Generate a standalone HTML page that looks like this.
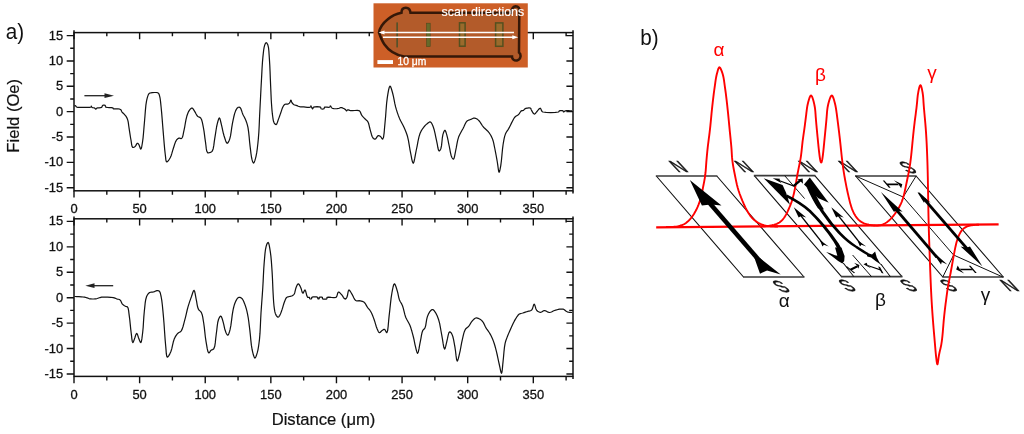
<!DOCTYPE html>
<html><head><meta charset="utf-8"><title>Figure</title>
<style>
html,body{margin:0;padding:0;background:#fff;}
svg{display:block;}
text{font-family:"Liberation Sans",Arial,sans-serif;}
.tl{font-size:13.6px;fill:#111;stroke:#111;stroke-width:0.3px;}
.at{font-size:16.6px;fill:#111;stroke:#111;stroke-width:0.2px;}
.pl{font-size:22.5px;fill:#111;}
.sb{font-size:10.3px;fill:#fff;stroke:#fff;stroke-width:0.3px;}
.sd{font-size:12.4px;fill:#fff;stroke:#fff;stroke-width:0.15px;}
.ns{fill:#111;stroke:#111;stroke-width:0.5px;}
.gk{font-size:19px;fill:#111;text-anchor:middle;}
.red{fill:#ff0000;}
</style></head>
<body>
<svg width="1024" height="434" viewBox="0 0 1024 434">
<rect x="74" y="32.6" width="499" height="158.2" fill="none" stroke="#111" stroke-width="1.5"/>
<line x1="74" y1="30.3" x2="74" y2="32.6" stroke="#111" stroke-width="1.5"/>
<line x1="573" y1="30.3" x2="573" y2="32.6" stroke="#111" stroke-width="1.5"/>
<line x1="573" y1="190.8" x2="573" y2="193.4" stroke="#111" stroke-width="1.5"/>
<path d="M66.7,187.7H74M566.4,187.7H573M66.7,162.35H74M566.4,162.35H573M66.7,137H74M566.4,137H573M66.7,111.65H74M566.4,111.65H573M66.7,86.3H74M566.4,86.3H573M66.7,60.95H74M566.4,60.95H573M66.7,35.6H74M566.4,35.6H573M70.2,175.03H74M569.2,175.03H573M70.2,149.68H74M569.2,149.68H573M70.2,124.33H74M569.2,124.33H573M70.2,98.98H74M569.2,98.98H573M70.2,73.62H74M569.2,73.62H573M70.2,48.28H74M569.2,48.28H573M74,190.8V197.6M74,32.6V39.2M139.62,190.8V197.6M139.62,32.6V39.2M205.23,190.8V197.6M205.23,32.6V39.2M270.85,190.8V197.6M270.85,32.6V39.2M336.46,190.8V197.6M336.46,32.6V39.2M402.07,190.8V197.6M402.07,32.6V39.2M467.69,190.8V197.6M467.69,32.6V39.2M533.31,190.8V197.6M533.31,32.6V39.2M106.81,190.8V194.8M106.81,32.6V36.2M172.42,190.8V194.8M172.42,32.6V36.2M238.04,190.8V194.8M238.04,32.6V36.2M303.65,190.8V194.8M303.65,32.6V36.2M369.27,190.8V194.8M369.27,32.6V36.2M434.88,190.8V194.8M434.88,32.6V36.2M500.5,190.8V194.8M500.5,32.6V36.2M566.11,190.8V194.8M566.11,32.6V36.2" stroke="#111" stroke-width="1.4" fill="none"/>
<text transform="translate(63.1,191.7) scale(0.95,1)" text-anchor="end" class="tl">-15</text>
<text transform="translate(63.1,166.35) scale(0.95,1)" text-anchor="end" class="tl">-10</text>
<text transform="translate(63.1,141) scale(0.95,1)" text-anchor="end" class="tl">-5</text>
<text transform="translate(63.1,115.65) scale(0.95,1)" text-anchor="end" class="tl">0</text>
<text transform="translate(63.1,90.3) scale(0.95,1)" text-anchor="end" class="tl">5</text>
<text transform="translate(63.1,64.95) scale(0.95,1)" text-anchor="end" class="tl">10</text>
<text transform="translate(63.1,39.6) scale(0.95,1)" text-anchor="end" class="tl">15</text>
<text transform="translate(74,212.9) scale(0.95,1)" text-anchor="middle" class="tl">0</text>
<text transform="translate(139.62,212.9) scale(0.95,1)" text-anchor="middle" class="tl">50</text>
<text transform="translate(205.23,212.9) scale(0.95,1)" text-anchor="middle" class="tl">100</text>
<text transform="translate(270.85,212.9) scale(0.95,1)" text-anchor="middle" class="tl">150</text>
<text transform="translate(336.46,212.9) scale(0.95,1)" text-anchor="middle" class="tl">200</text>
<text transform="translate(402.07,212.9) scale(0.95,1)" text-anchor="middle" class="tl">250</text>
<text transform="translate(467.69,212.9) scale(0.95,1)" text-anchor="middle" class="tl">300</text>
<text transform="translate(533.31,212.9) scale(0.95,1)" text-anchor="middle" class="tl">350</text>
<rect x="74" y="218.8" width="499" height="157.6" fill="none" stroke="#111" stroke-width="1.5"/>
<line x1="74" y1="216.5" x2="74" y2="218.8" stroke="#111" stroke-width="1.5"/>
<line x1="573" y1="216.5" x2="573" y2="218.8" stroke="#111" stroke-width="1.5"/>
<line x1="573" y1="376.4" x2="573" y2="379" stroke="#111" stroke-width="1.5"/>
<path d="M66.7,374H74M566.4,374H573M66.7,348.57H74M566.4,348.57H573M66.7,323.13H74M566.4,323.13H573M66.7,297.7H74M566.4,297.7H573M66.7,272.26H74M566.4,272.26H573M66.7,246.83H74M566.4,246.83H573M66.7,221.39H74M566.4,221.39H573M70.2,361.29H74M569.2,361.29H573M70.2,335.85H74M569.2,335.85H573M70.2,310.42H74M569.2,310.42H573M70.2,284.98H74M569.2,284.98H573M70.2,259.55H74M569.2,259.55H573M70.2,234.11H74M569.2,234.11H573M74,376.4V383.2M74,218.8V225.4M139.62,376.4V383.2M139.62,218.8V225.4M205.23,376.4V383.2M205.23,218.8V225.4M270.85,376.4V383.2M270.85,218.8V225.4M336.46,376.4V383.2M336.46,218.8V225.4M402.07,376.4V383.2M402.07,218.8V225.4M467.69,376.4V383.2M467.69,218.8V225.4M533.31,376.4V383.2M533.31,218.8V225.4M106.81,376.4V380.4M106.81,218.8V222.4M172.42,376.4V380.4M172.42,218.8V222.4M238.04,376.4V380.4M238.04,218.8V222.4M303.65,376.4V380.4M303.65,218.8V222.4M369.27,376.4V380.4M369.27,218.8V222.4M434.88,376.4V380.4M434.88,218.8V222.4M500.5,376.4V380.4M500.5,218.8V222.4M566.11,376.4V380.4M566.11,218.8V222.4" stroke="#111" stroke-width="1.4" fill="none"/>
<text transform="translate(63.1,378) scale(0.95,1)" text-anchor="end" class="tl">-15</text>
<text transform="translate(63.1,352.57) scale(0.95,1)" text-anchor="end" class="tl">-10</text>
<text transform="translate(63.1,327.13) scale(0.95,1)" text-anchor="end" class="tl">-5</text>
<text transform="translate(63.1,301.7) scale(0.95,1)" text-anchor="end" class="tl">0</text>
<text transform="translate(63.1,276.26) scale(0.95,1)" text-anchor="end" class="tl">5</text>
<text transform="translate(63.1,250.83) scale(0.95,1)" text-anchor="end" class="tl">10</text>
<text transform="translate(63.1,225.39) scale(0.95,1)" text-anchor="end" class="tl">15</text>
<text transform="translate(74,399.1) scale(0.95,1)" text-anchor="middle" class="tl">0</text>
<text transform="translate(139.62,399.1) scale(0.95,1)" text-anchor="middle" class="tl">50</text>
<text transform="translate(205.23,399.1) scale(0.95,1)" text-anchor="middle" class="tl">100</text>
<text transform="translate(270.85,399.1) scale(0.95,1)" text-anchor="middle" class="tl">150</text>
<text transform="translate(336.46,399.1) scale(0.95,1)" text-anchor="middle" class="tl">200</text>
<text transform="translate(402.07,399.1) scale(0.95,1)" text-anchor="middle" class="tl">250</text>
<text transform="translate(467.69,399.1) scale(0.95,1)" text-anchor="middle" class="tl">300</text>
<text transform="translate(533.31,399.1) scale(0.95,1)" text-anchor="middle" class="tl">350</text>
<polyline points="74.5,105.8 74.72,105.76 74.95,105.7 75.17,105.67 75.4,105.7 75.71,105.94 76,106.34 76.34,106.77 76.8,107.1 78,107.36 79.56,107.4 81.29,107.34 83,107.3 85.04,107.36 87.27,107.43 89.27,107.39 90.6,107.1 90.87,106.84 91.04,106.5 91.16,106.22 91.3,106.1 91.46,106.26 91.59,106.63 91.75,107.06 92,107.4 92.57,107.64 93.31,107.77 94.08,107.89 94.7,108.1 95.03,108.39 95.3,108.76 95.55,109.07 95.8,109.2 96.03,109.06 96.23,108.75 96.47,108.39 96.8,108.1 97.82,107.87 99.2,107.81 100.58,107.72 101.6,107.4 101.97,106.94 102.18,106.35 102.38,105.79 102.7,105.4 103.25,105.21 103.93,105.14 104.59,105.21 105.1,105.4 105.32,105.73 105.41,106.21 105.52,106.7 105.8,107.1 107.18,107.46 109.25,107.52 111.32,107.54 112.7,107.8 112.94,108.04 113.06,108.32 113.17,108.59 113.4,108.8 114.31,108.95 115.6,108.87 116.99,108.75 118.2,108.8 119.01,108.98 119.79,109.21 120.47,109.52 121,109.9 121.24,110.27 121.37,110.69 121.49,111.14 121.7,111.6 122.25,112.27 122.96,112.97 123.71,113.69 124.4,114.4 124.97,115.06 125.52,115.71 126.04,116.38 126.5,117.1 126.92,117.89 127.28,118.72 127.6,119.61 127.9,120.6 128.23,122.14 128.49,123.86 128.72,125.72 129,127.7 129.45,130.66 129.95,133.95 130.47,137.24 131,140.2 131.34,142.4 131.65,144.62 132.06,146.42 132.7,147.4 133.26,147.47 133.92,147.24 134.6,146.85 135.2,146.4 135.79,145.64 136.31,144.64 136.8,143.74 137.3,143.3 137.65,143.34 138.01,143.56 138.36,143.9 138.7,144.3 139.27,145.46 139.81,147.08 140.33,148.51 140.8,149.1 141.29,148.41 141.72,146.73 142.12,144.51 142.5,142.2 143.08,137.82 143.57,132.55 144.02,126.94 144.5,121.5 144.96,116.04 145.39,110.41 145.89,105.12 146.6,100.7 147.13,98.43 147.71,96.35 148.36,94.64 149.1,93.5 149.47,93.21 149.85,93.06 150.28,92.98 150.8,92.9 152.38,92.67 154.45,92.49 156.5,92.51 158,92.9 158.56,93.37 158.94,93.98 159.22,94.72 159.5,95.6 160.02,97.77 160.42,100.51 160.75,103.65 161.1,107 161.64,112.57 162.16,118.92 162.68,125.53 163.2,131.9 163.71,137.97 164.22,144.16 164.74,149.92 165.3,154.7 165.57,157.12 165.81,159.43 166.14,161.2 166.7,162 167.45,161.68 168.38,160.65 169.35,159.24 170.2,157.8 171.1,155.76 171.85,153.38 172.56,150.88 173.3,148.5 174.03,146.25 174.74,143.94 175.51,141.84 176.4,140.2 177.03,139.45 177.7,138.83 178.4,138.38 179.1,138.1 179.73,138.14 180.39,138.39 181.03,138.6 181.6,138.5 182.44,137.24 183.05,135.05 183.56,132.41 184.1,129.8 184.77,126.51 185.39,122.9 186.04,119.36 186.8,116.3 187.4,114.47 188.04,112.8 188.73,111.32 189.5,110.1 190.09,109.34 190.73,108.65 191.38,108.15 192,108 192.64,108.35 193.27,109.13 193.88,110.12 194.5,111.1 195.25,112.37 195.98,113.82 196.75,115.2 197.6,116.3 198.36,116.79 199.18,117.08 199.99,117.41 200.7,118 201.62,119.77 202.3,122.18 202.86,124.93 203.4,127.7 204.01,131.17 204.51,134.91 204.99,138.68 205.5,142.2 205.9,145.26 206.25,148.41 206.73,151.05 207.5,152.6 207.97,152.83 208.5,152.85 209.05,152.75 209.6,152.6 210.29,152.4 211,152.1 211.69,151.66 212.3,151 213.21,148.7 213.81,145.41 214.28,141.68 214.8,138.1 215.41,134.37 216,130.47 216.61,126.75 217.3,123.6 217.8,121.73 218.34,119.91 218.88,118.54 219.4,118 219.92,118.69 220.41,120.37 220.9,122.51 221.4,124.6 222.04,127.29 222.67,130.28 223.34,133.27 224.1,136 224.82,138.29 225.59,140.65 226.4,142.52 227.2,143.3 227.84,142.94 228.49,141.94 229.12,140.58 229.7,139.1 230.52,135.9 231.15,131.88 231.73,127.59 232.4,123.6 233.1,120.19 233.82,116.77 234.61,113.64 235.5,111.1 236.07,109.87 236.68,108.78 237.32,107.93 238,107.4 238.51,107.24 239.06,107.21 239.6,107.33 240.1,107.6 240.87,108.69 241.52,110.41 242.13,112.38 242.8,114.2 243.57,115.78 244.39,117.32 245.19,118.88 245.9,120.5 246.52,122.17 247.06,123.83 247.54,125.63 248,127.7 248.62,131.82 249.13,136.68 249.59,141.73 250.1,146.4 250.56,150.16 251.01,153.9 251.5,157.26 252.1,159.9 252.45,161 252.82,162 253.21,162.73 253.6,163 254.17,162.39 254.77,160.89 255.36,158.89 255.9,156.8 256.68,152.93 257.33,148.3 257.9,143.24 258.4,138.1 258.87,131.94 259.2,125.47 259.48,118.79 259.8,112 260.19,104.34 260.59,96.41 260.99,88.53 261.4,81 261.74,74.61 262.07,68.34 262.44,62.42 262.9,57.1 263.27,53.58 263.65,50.25 264.11,47.34 264.7,45.1 265.04,44.23 265.41,43.47 265.8,42.92 266.2,42.7 266.63,42.9 267.08,43.44 267.52,44.21 267.9,45.1 268.5,47.64 268.87,51.03 269.13,54.94 269.4,59 269.77,65.03 270.07,71.76 270.33,78.61 270.6,85 270.82,90 271.02,94.82 271.23,99.43 271.5,103.8 271.75,107.26 272.02,110.59 272.33,113.7 272.7,116.5 272.97,118.33 273.24,120.06 273.59,121.58 274.1,122.8 274.55,123.48 275.07,124.09 275.6,124.5 276.1,124.6 276.73,123.97 277.31,122.62 277.86,120.96 278.4,119.4 278.99,117.85 279.56,116.24 280.13,114.61 280.7,113 281.26,111.34 281.82,109.63 282.39,108.04 283,106.7 283.41,105.97 283.82,105.33 284.27,104.8 284.8,104.4 285.44,104.22 286.17,104.2 286.92,104.21 287.6,104.1 288.18,103.85 288.74,103.53 289.25,103.15 289.7,102.7 290.08,102.01 290.37,101.14 290.63,100.41 290.9,100.1 291.16,100.4 291.4,101.11 291.66,101.97 292,102.7 292.42,103.27 292.89,103.81 293.42,104.29 294,104.7 294.67,105 295.4,105.21 296.16,105.39 296.9,105.6 297.59,105.88 298.26,106.19 298.96,106.48 299.7,106.7 300.64,106.83 301.64,106.87 302.69,106.87 303.8,106.9 305.46,107.07 307.33,107.3 309.04,107.41 310.2,107.2 310.48,106.88 310.65,106.45 310.76,106.06 310.9,105.9 311.07,106.04 311.24,106.38 311.41,106.8 311.6,107.2 311.84,107.69 312.09,108.25 312.35,108.71 312.6,108.9 312.81,108.69 312.98,108.19 313.22,107.62 313.6,107.2 315.04,106.81 317.1,106.68 319.14,106.81 320.5,107.2 320.77,107.56 320.88,108.02 320.98,108.48 321.2,108.8 321.78,109.01 322.55,109.08 323.32,109.01 323.9,108.8 324.13,108.47 324.23,108.01 324.34,107.55 324.6,107.2 325.57,107.03 326.96,107.17 328.37,107.32 329.4,107.2 329.74,106.88 329.98,106.45 330.18,106.06 330.4,105.9 330.64,106.06 330.88,106.44 331.13,106.9 331.4,107.3 331.69,107.64 332,107.97 332.35,108.27 332.8,108.5 333.95,108.72 335.43,108.76 336.98,108.66 338.3,108.5 339.05,108.29 339.72,107.98 340.35,107.72 341,107.6 341.69,107.69 342.38,107.9 343.06,108.19 343.7,108.5 344.26,108.79 344.8,109.11 345.29,109.45 345.7,109.8 345.93,110.11 346.12,110.47 346.29,110.76 346.5,110.9 346.78,110.76 347.08,110.41 347.41,110.03 347.8,109.8 348.38,109.84 349.02,110.08 349.76,110.38 350.6,110.6 352.51,110.64 354.87,110.49 357.15,110.4 358.8,110.6 359.27,110.82 359.62,111.09 359.91,111.42 360.2,111.8 360.54,112.45 360.81,113.24 361.1,114.08 361.5,114.9 362.21,115.89 363.08,116.88 364.01,117.87 364.9,118.8 365.68,119.53 366.48,120.19 367.23,120.9 367.9,121.8 368.62,123.51 369.16,125.57 369.64,127.77 370.2,129.9 370.82,132.11 371.46,134.45 372.16,136.53 373,138 373.54,138.51 374.13,138.9 374.72,139.1 375.3,139.1 376.01,138.52 376.69,137.43 377.38,136.33 378.1,135.7 378.67,135.65 379.26,135.79 379.85,136.06 380.4,136.4 381.03,137.08 381.63,138.03 382.19,138.83 382.7,139.1 383.54,137.26 384.1,133.15 384.54,127.99 385,123 385.57,116.82 386.07,110.03 386.6,103.38 387.3,97.6 387.89,93.87 388.55,90.14 389.26,87.28 390,86.1 390.63,86.77 391.3,88.51 391.97,90.76 392.6,93 393.37,96.16 394.07,99.73 394.78,103.41 395.6,106.9 396.47,109.9 397.41,112.83 398.42,115.67 399.5,118.4 400.61,120.79 401.8,123.07 403,125.32 404.1,127.6 405.07,129.82 405.98,132.01 406.82,134.29 407.6,136.8 408.46,140.57 409.19,144.78 409.87,149.02 410.6,152.9 411.24,156.15 411.88,159.55 412.54,162.22 413.2,163.3 413.96,161.88 414.72,158.4 415.5,154.05 416.3,150 417.17,145.76 418.03,141.23 418.97,136.92 420.1,133.3 420.97,131.41 421.91,129.77 422.9,128.32 423.9,127 424.7,126.04 425.52,125.17 426.35,124.4 427.2,123.7 427.98,123.06 428.78,122.42 429.57,121.97 430.3,121.9 431.14,122.52 431.91,123.74 432.62,125.32 433.3,127 434.25,130.02 435.08,133.63 435.84,137.41 436.6,140.9 437.22,143.99 437.8,147.24 438.41,149.85 439.1,151 439.54,150.83 440.02,150.26 440.48,149.44 440.9,148.5 441.53,145.65 441.94,141.76 442.33,137.77 442.9,134.6 443.36,133.13 443.87,131.73 444.4,130.7 444.9,130.3 445.37,130.72 445.82,131.78 446.27,133.17 446.7,134.6 447.35,137.06 447.97,139.95 448.58,143.02 449.2,146 449.81,149.07 450.4,152.29 451.04,155.19 451.8,157.3 452.21,158 452.65,158.61 453.1,159.01 453.5,159.1 454.11,158.17 454.62,156.11 455.09,153.53 455.6,151 456.27,147.71 456.91,144.06 457.65,140.41 458.6,137.1 459.63,134.67 460.81,132.43 462.03,130.29 463.2,128.2 464.13,126.24 465.01,124.25 465.94,122.47 467,121.1 467.89,120.47 468.84,120.05 469.82,119.73 470.8,119.4 471.75,118.97 472.7,118.53 473.66,118.19 474.6,118.1 475.56,118.3 476.52,118.74 477.47,119.35 478.4,120.1 479.67,121.52 480.89,123.35 482.12,125.27 483.4,127 484.67,128.31 486,129.5 487.31,130.69 488.5,132 489.59,133.46 490.59,135 491.49,136.63 492.3,138.4 493.08,140.7 493.7,143.18 494.25,145.8 494.8,148.5 495.46,151.77 496.1,155.24 496.72,158.7 497.3,162 497.77,165.15 498.21,168.52 498.64,171.2 499.1,172.3 499.52,171.63 499.95,169.92 500.39,167.65 500.8,165.3 501.4,160.72 501.93,155.14 502.47,149.45 503.1,144.5 503.58,141.56 504.08,138.85 504.65,136.36 505.4,134.1 506.16,132.53 507.02,131.15 507.93,129.82 508.8,128.4 509.69,126.69 510.58,124.9 511.45,123.13 512.3,121.5 512.96,120.25 513.58,119.06 514.24,117.96 515,117 515.82,116.32 516.73,115.77 517.65,115.24 518.5,114.6 519.28,113.64 520,112.52 520.69,111.49 521.4,110.8 521.86,110.64 522.31,110.62 522.77,110.61 523.2,110.5 523.67,110.15 524.11,109.67 524.54,109.18 525,108.8 525.4,108.58 525.79,108.42 526.22,108.3 526.7,108.2 527.61,108.06 528.69,107.96 529.72,107.97 530.5,108.2 530.82,108.53 531,108.97 531.16,109.47 531.4,110 531.99,111.1 532.71,112.43 533.51,113.58 534.3,114.1 535.03,113.8 535.78,113 536.55,112 537.3,111.1 538.05,110.22 538.82,109.24 539.55,108.47 540.2,108.2 540.71,108.66 541.15,109.61 541.56,110.66 542,111.4 542.24,111.62 542.46,111.78 542.72,111.89 543.1,112 546.09,112.36 550.76,112.55 555.42,112.47 558.4,112 558.79,111.72 559,111.38 559.2,111.05 559.5,110.8 560.29,110.6 561.31,110.52 562.29,110.58 563,110.8 563.22,111.08 563.33,111.46 563.43,111.81 563.6,112 563.93,111.89 564.34,111.54 564.82,111.11 565.4,110.8 566.74,110.61 568.43,110.63 570.25,110.74 572,110.8" fill="none" stroke="#121212" stroke-width="1.22" stroke-linejoin="round"/>
<polyline points="74.5,296.5 74.66,296.5 74.8,296.5 74.97,296.5 75.2,296.5 76.69,296.56 78.92,296.68 81.29,296.83 83.2,297 83.99,297.1 84.66,297.21 85.3,297.34 86,297.5 86.95,297.8 87.95,298.18 89,298.54 90.1,298.8 91.48,298.95 92.94,299 94.43,298.95 95.9,298.8 97.29,298.48 98.63,298 100.03,297.53 101.6,297.2 104.37,297.03 107.58,297.07 110.7,297.27 113.2,297.6 114.2,297.85 115.03,298.16 115.8,298.48 116.6,298.8 117.5,299.05 118.43,299.26 119.32,299.54 120.1,300 120.77,300.86 121.27,301.97 121.77,303.13 122.4,304.1 123.19,304.82 124.09,305.46 124.99,305.99 125.8,306.4 126.27,306.53 126.71,306.57 127.12,306.64 127.5,306.9 128.17,308.35 128.61,310.63 128.95,313.35 129.3,316.1 129.79,319.89 130.22,324.09 130.64,328.32 131.1,332.2 131.48,335.44 131.86,338.81 132.29,341.47 132.8,342.6 133.17,342.26 133.56,341.37 133.98,340.21 134.4,339.1 134.95,337.51 135.53,335.63 136.12,334.06 136.7,333.4 137.28,334.06 137.85,335.63 138.43,337.51 139,339.1 139.46,340.22 139.93,341.38 140.38,342.27 140.8,342.6 141.38,341.49 141.87,338.88 142.3,335.53 142.7,332.2 143.16,327.45 143.5,322.08 143.85,316.6 144.3,311.5 144.73,307.33 145.16,303.2 145.74,299.46 146.6,296.5 147.23,295.21 147.93,294.13 148.72,293.26 149.6,292.6 150.5,292.25 151.5,292.12 152.52,292.05 153.5,291.9 154.38,291.59 155.25,291.21 156.1,290.87 156.9,290.7 157.55,290.67 158.18,290.72 158.78,290.88 159.3,291.2 159.91,292.06 160.36,293.28 160.73,294.8 161.1,296.5 161.78,300.42 162.36,305.25 162.89,310.61 163.4,316.1 164.01,323.47 164.56,331.57 165.11,339.4 165.7,346 166.01,349.64 166.27,353.18 166.65,355.91 167.3,357.1 168.06,356.67 168.99,355.36 169.94,353.6 170.8,351.8 171.74,348.92 172.51,345.48 173.27,342.03 174.2,339.1 174.99,337.41 175.84,335.88 176.74,334.54 177.7,333.4 178.53,332.76 179.42,332.32 180.3,331.85 181.1,331.1 182.17,329.12 183.04,326.52 183.82,323.61 184.6,320.7 185.48,317.35 186.3,313.8 187.12,310.25 188,306.9 188.85,304.12 189.74,301.43 190.64,298.87 191.5,296.5 192.15,294.53 192.8,292.5 193.42,290.92 194,290.3 194.58,291.23 195.1,293.45 195.6,296.22 196.1,298.8 196.61,301.47 197.08,304.33 197.63,307.02 198.4,309.2 199.09,310.18 199.9,310.9 200.71,311.62 201.4,312.6 202.18,314.69 202.75,317.22 203.22,320.04 203.7,323 204.3,327.33 204.82,332.15 205.35,336.99 206,341.4 206.6,344.97 207.23,348.66 207.95,351.58 208.8,352.9 209.32,352.64 209.88,351.87 210.47,350.94 211.1,350.2 211.76,349.85 212.48,349.64 213.18,349.35 213.8,348.8 214.74,346.32 215.31,342.64 215.72,338.46 216.2,334.5 216.72,330.52 217.19,326.33 217.73,322.48 218.5,319.5 219.03,318.27 219.63,317.16 220.23,316.37 220.8,316.1 221.42,316.73 222.01,318.17 222.57,320.01 223.1,321.8 223.69,324.05 224.22,326.55 224.76,329 225.4,331.1 225.94,332.46 226.53,333.8 227.13,334.81 227.7,335.2 228.3,334.69 228.9,333.43 229.46,331.73 230,329.9 230.85,325.69 231.56,320.34 232.24,314.88 233,310.3 233.52,307.98 234.04,305.91 234.61,304.04 235.3,302.3 235.95,300.87 236.65,299.47 237.43,298.31 238.3,297.6 239.06,297.41 239.9,297.45 240.74,297.69 241.5,298.1 242.38,299 243.14,300.28 243.83,301.8 244.5,303.4 245.35,305.67 246.13,308.21 246.85,310.94 247.5,313.8 248.19,317.53 248.76,321.52 249.27,325.68 249.8,329.9 250.34,334.86 250.83,340.1 251.37,345.14 252.1,349.5 252.73,352.28 253.43,355.03 254.17,357.14 254.9,358 255.49,357.52 256.09,356.28 256.67,354.62 257.2,352.9 257.91,350.05 258.52,346.72 259.03,343.03 259.5,339.1 260,333.16 260.35,326.55 260.65,319.7 261,313 261.44,306.6 261.9,300.21 262.37,293.85 262.8,287.5 263.15,281.13 263.45,274.71 263.78,268.46 264.2,262.6 264.59,257.95 265,253.38 265.51,249.29 266.2,246.1 266.64,244.78 267.13,243.57 267.64,242.7 268.1,242.4 268.72,243.36 269.3,245.65 269.82,248.62 270.3,251.6 270.89,256.08 271.35,261.16 271.74,266.54 272.1,271.9 272.43,277.71 272.68,283.75 272.92,289.63 273.2,295 273.43,298.73 273.66,302.27 273.94,305.52 274.3,308.4 274.57,310.14 274.85,311.72 275.21,313.15 275.7,314.4 276.2,315.34 276.8,316.24 277.41,316.92 278,317.2 278.47,317.04 278.92,316.59 279.37,315.97 279.8,315.3 280.42,314.09 281,312.62 281.55,311.01 282.1,309.4 282.68,307.57 283.23,305.64 283.79,303.74 284.4,302 284.91,300.67 285.43,299.38 286,298.25 286.7,297.4 287.34,297.02 288.04,296.81 288.78,296.67 289.5,296.5 290.22,296.32 290.95,296.16 291.66,295.97 292.3,295.7 292.84,295.38 293.33,295.02 293.78,294.57 294.2,294 294.76,292.65 295.18,290.91 295.59,289.09 296.1,287.5 296.6,286.31 297.15,285.11 297.72,284.18 298.3,283.8 298.9,284.17 299.52,285.12 300.13,286.33 300.7,287.5 301.29,289.08 301.81,290.94 302.33,292.51 302.9,293.2 303.41,292.72 303.94,291.6 304.48,290.48 305,290 305.65,291.08 306.23,293.4 306.85,295.84 307.6,297.3 308.06,297.42 308.57,297.34 309.04,297.24 309.4,297.3 309.56,297.61 309.6,298.05 309.64,298.49 309.8,298.8 310.16,298.95 310.65,299 311.14,298.95 311.5,298.8 311.64,298.5 311.66,298.08 311.7,297.64 311.9,297.3 313.03,296.95 314.77,296.83 316.5,296.94 317.6,297.3 317.78,297.64 317.79,298.09 317.79,298.51 317.9,298.8 318.16,298.92 318.5,298.96 318.84,298.92 319.1,298.8 319.22,298.51 319.22,298.07 319.24,297.62 319.4,297.3 319.99,297.08 320.85,297 321.71,297.08 322.3,297.3 322.44,297.61 322.44,298.04 322.44,298.47 322.6,298.8 323.43,299.09 324.7,299.19 325.97,299.09 326.8,298.8 326.95,298.48 326.93,298.07 326.92,297.64 327.1,297.3 328.67,297.11 331.24,297.43 333.97,297.69 336,297.3 336.87,296.09 337.38,294.37 337.8,292.79 338.4,292 339.13,292.19 339.94,292.87 340.79,293.8 341.6,294.7 342.51,295.9 343.43,297.34 344.3,298.56 345.1,299.1 345.59,298.96 346.06,298.55 346.49,297.97 346.9,297.3 347.45,295.53 347.87,293.14 348.3,291 348.9,290 349.6,290.4 350.42,291.54 351.27,293.01 352.1,294.4 352.95,295.99 353.76,297.77 354.64,299.39 355.7,300.5 356.76,300.83 357.94,300.83 359.15,300.73 360.3,300.8 361.34,301.04 362.35,301.33 363.32,301.73 364.2,302.3 365.05,303.24 365.77,304.41 366.46,305.69 367.2,306.9 368.06,308.02 368.96,309.1 369.86,310.23 370.7,311.5 371.63,313.3 372.5,315.29 373.31,317.39 374.1,319.5 374.88,321.87 375.61,324.36 376.33,326.75 377.1,328.8 377.64,330.07 378.18,331.3 378.76,332.25 379.4,332.7 380.05,332.48 380.76,331.82 381.49,331.02 382.2,330.4 382.79,330.02 383.38,329.65 383.96,329.41 384.5,329.4 385.14,330.04 385.74,331.2 386.3,332.28 386.8,332.7 387.6,330.82 388.15,326.53 388.6,321.18 389.1,316.1 389.76,310.34 390.41,304.12 391.1,298.12 391.9,293 392.47,289.97 393.07,287 393.71,284.73 394.4,283.8 395.08,284.5 395.81,286.29 396.54,288.56 397.2,290.7 397.81,292.98 398.31,295.41 398.84,297.82 399.5,300 400.19,301.49 400.97,302.81 401.77,304.15 402.5,305.7 403.33,308.33 404.06,311.33 404.8,314.39 405.7,317.2 406.68,319.31 407.79,321.25 408.9,323.19 409.9,325.3 410.9,328.07 411.81,331.04 412.64,334.07 413.4,337 414.01,339.66 414.54,342.31 415.05,344.85 415.6,347.2 416.08,349.13 416.58,351.13 417.09,352.68 417.6,353.3 418.31,351.93 419.02,348.65 419.72,344.65 420.4,341.1 420.95,338.28 421.44,335.41 421.99,332.78 422.7,330.7 423.24,329.89 423.85,329.31 424.46,328.72 425,327.9 425.69,325.6 426.17,322.64 426.65,319.56 427.3,316.9 427.96,315.2 428.69,313.61 429.48,312.21 430.3,311.1 430.86,310.49 431.43,309.96 432.02,309.6 432.6,309.5 433.28,309.8 433.97,310.46 434.65,311.34 435.3,312.3 436.25,313.91 437.16,315.84 438.01,317.99 438.8,320.3 439.68,323.71 440.42,327.53 441.1,331.48 441.8,335.3 442.5,339.43 443.19,343.95 443.89,347.59 444.6,349.1 445.16,348.25 445.73,346.15 446.31,343.52 446.9,341.1 447.52,338.43 448.14,335.44 448.81,332.96 449.6,331.8 450.15,331.92 450.75,332.43 451.35,333.2 451.9,334.1 452.82,336.5 453.58,339.72 454.26,343.31 454.9,346.8 455.51,350.97 456.04,355.65 456.58,359.49 457.2,361.1 457.74,360.37 458.33,358.51 458.92,356.09 459.5,353.7 460.26,350.26 460.98,346.35 461.72,342.39 462.5,338.8 463.12,336.19 463.72,333.68 464.42,331.4 465.3,329.5 466.1,328.49 467,327.7 467.93,326.96 468.8,326.1 469.67,324.88 470.49,323.53 471.32,322.18 472.2,321 473.03,320.06 473.89,319.16 474.78,318.43 475.7,318 476.53,317.92 477.4,318.05 478.26,318.34 479.1,318.7 480.02,319.2 480.92,319.84 481.79,320.61 482.6,321.5 483.52,322.88 484.33,324.52 485.13,326.25 486,327.9 487.02,329.46 488.12,330.98 489.21,332.51 490.2,334.1 491.09,335.76 491.9,337.46 492.67,339.22 493.4,341.1 494.22,343.48 494.97,346.02 495.69,348.67 496.4,351.4 497.19,354.74 497.95,358.29 498.69,361.79 499.4,365 499.96,367.61 500.51,370.33 501.03,372.46 501.5,373.3 501.97,372 502.36,368.85 502.72,364.88 503.1,361.1 503.54,356.73 503.95,351.98 504.44,347.37 505.1,343.4 505.66,341.27 506.28,339.41 506.97,337.65 507.7,335.8 508.57,333.62 509.52,331.39 510.51,329.16 511.5,327 512.42,325.01 513.35,323.05 514.31,321.16 515.3,319.4 516.17,317.94 517.05,316.53 517.98,315.27 519,314.3 519.88,313.81 520.82,313.51 521.79,313.28 522.8,313 524.04,312.58 525.35,312.15 526.66,311.72 527.9,311.3 528.93,311.03 529.94,310.82 530.88,310.53 531.7,310 532.5,308.6 533.11,306.66 533.63,304.94 534.2,304.2 534.79,305 535.34,306.85 535.97,308.95 536.8,310.5 537.64,311.23 538.6,311.8 539.61,312.17 540.6,312.3 541.54,312.02 542.46,311.42 543.41,310.8 544.4,310.5 545.6,310.79 546.85,311.48 548.13,312.18 549.4,312.5 550.67,312.27 551.94,311.71 553.22,311.05 554.5,310.5 555.78,310.1 557.09,309.72 558.37,309.41 559.6,309.2 560.59,309.08 561.55,309 562.48,309.02 563.4,309.2 564.36,309.7 565.27,310.45 566.19,311.22 567.2,311.8 568.38,312.12 569.63,312.28 570.93,312.37 572.2,312.5" fill="none" stroke="#121212" stroke-width="1.22" stroke-linejoin="round"/>
<line x1="84.4" y1="95.7" x2="108" y2="95.7" stroke="#222" stroke-width="1.3"/><polygon points="104.5,93.3 114,95.7 104.5,98.1" fill="#222"/>
<line x1="91" y1="285.7" x2="113.2" y2="285.7" stroke="#222" stroke-width="1.3"/><polygon points="94.5,283.3 85.3,285.7 94.5,288.1" fill="#222"/>
<text x="323.5" y="424.7" text-anchor="middle" class="at">Distance (μm)</text>
<text transform="translate(19.4,115.8) rotate(-90)" text-anchor="middle" class="at">Field (Oe)</text>
<text transform="translate(5.8,38.7) scale(0.92,1)" class="pl">a)</text>
<g>
<rect x="373.5" y="3.3" width="154.3" height="64.2" fill="#cd5f27"/>
<path d="M379,32.5 C379.5,29 382,24 387.5,19.5 C391,16.5 395,14 401.5,12.8 C401.5,9.5 403.5,7.8 405.8,7.8 C408.3,7.8 410.2,9.8 410.5,12.8 L511.5,12.8 C511,9.5 513,6.5 515.5,6.3 C518.5,6.3 520,8.5 519.3,11.5 L519,52.5 C521.5,54.5 521,59.5 517,60.5 C514,61 512,59 512,56.5 L404,56.5 C396,55 389,51 384.5,44.5 C382,41 380.5,37 379,32.5 Z" fill="#b35b2a" stroke="#351808" stroke-width="2.5"/>
<rect x="396.3" y="22.4" width="1.7" height="25" fill="#56522a"/>
<rect x="426.6" y="23.2" width="3.6" height="23.4" fill="#666a2a" stroke="#4e4a1e" stroke-width="0.6"/>
<rect x="459.5" y="22.8" width="5.6" height="23.4" fill="#9a6a2c" stroke="#55501f" stroke-width="1.5"/>
<rect x="495.6" y="22.9" width="7.3" height="23.4" fill="#9a6a2c" stroke="#55501f" stroke-width="1.5"/>
<line x1="381" y1="32.6" x2="514" y2="32.6" stroke="#fff" stroke-width="1.5"/>
<polygon points="378.6,32.6 384.5,30.6 384.5,34.6" fill="#fff"/>
<line x1="383" y1="37.3" x2="515" y2="37.3" stroke="#fff" stroke-width="1.5"/>
<polygon points="518.2,37.3 512.3,35.3 512.3,39.3" fill="#fff"/>
<rect x="377.4" y="60.1" width="15.6" height="3.9" fill="#fff"/>
<text x="397.5" y="65.4" class="sb">10 μm</text>
<text x="441.5" y="16.3" class="sd">scan directions</text>
</g>
<text transform="translate(640.3,45) scale(0.92,1)" class="pl">b)</text>
<text transform="translate(677.5,171.5) skewX(43) scale(1.05,1)" class="ns" style="font-size:16px">N</text>
<text transform="translate(743,171.5) skewX(43) scale(1.05,1)" class="ns" style="font-size:16px">N</text>
<text transform="translate(807,171.5) skewX(43) scale(1.05,1)" class="ns" style="font-size:16px">N</text>
<text transform="translate(847,171.5) skewX(43) scale(1.05,1)" class="ns" style="font-size:16px">N</text>
<text transform="translate(907.2,172.5) skewX(43) scale(1.05,1)" class="ns" style="font-size:16px">S</text>
<text transform="translate(780.5,292) skewX(43) scale(1.05,1)" class="ns" style="font-size:16px">S</text>
<text transform="translate(846.5,291) skewX(43) scale(1.05,1)" class="ns" style="font-size:16px">S</text>
<text transform="translate(908,291) skewX(43) scale(1.05,1)" class="ns" style="font-size:16px">S</text>
<text transform="translate(948,291) skewX(43) scale(1.05,1)" class="ns" style="font-size:16px">S</text>
<text transform="translate(1008.5,291) skewX(43) scale(1.05,1)" class="ns" style="font-size:16px">N</text>
<path d="M716.8,176 L804,277 M743.5,277 L656.3,176" fill="none" stroke="#111" stroke-width="1.1"/>
<path d="M655.8,176 H717.3 M743,277 H804.5" fill="none" stroke="#3a3a3a" stroke-width="1.7"/>
<path d="M814.8,175.7 L902,276.7 M841.5,276.7 L754.3,175.7" fill="none" stroke="#111" stroke-width="1.1"/>
<path d="M753.8,175.7 H815.3 M841,276.7 H902.5" fill="none" stroke="#3a3a3a" stroke-width="1.7"/>
<path d="M916.1,176 L1003.3,277 M942.8,277 L855.6,176" fill="none" stroke="#111" stroke-width="1.1"/>
<path d="M855.1,176 H916.6 M942.3,277 H1003.8" fill="none" stroke="#3a3a3a" stroke-width="1.7"/>
<path d="M784.7,175.7 L804.6,198.6 M852.6,255 L871.6,276.7" stroke="#111" stroke-width="1" fill="none"/>
<path d="M855.6,176 L903.2,197 L916.1,176 M903.2,197 L953.6,255 M942.8,277 L953.6,255 L1002.8,277" fill="none" stroke="#111" stroke-width="1"/>
<line x1="656.2" y1="227.4" x2="998.6" y2="224.39" stroke="#ff0000" stroke-width="2.2"/>
<polyline points="666,227 667.55,226.96 669.11,226.95 670.66,226.93 672.22,226.89 673.76,226.79 675.3,226.6 676.87,226.35 678.45,226.06 680.02,225.72 681.57,225.28 683.07,224.72 684.5,224 685.99,223.02 687.42,221.86 688.8,220.56 690.12,219.13 691.39,217.6 692.6,216 693.94,214 695.21,211.84 696.41,209.54 697.53,207.14 698.56,204.68 699.5,202.2 700.39,199.43 701.16,196.5 701.84,193.5 702.44,190.52 702.98,187.66 703.5,185 703.87,183.13 704.21,181.38 704.52,179.7 704.8,178.04 705.05,176.32 705.3,174.5 705.56,172.21 705.77,169.8 705.95,167.33 706.13,164.84 706.31,162.38 706.5,160 706.69,157.91 706.87,155.88 707.06,153.89 707.25,151.88 707.46,149.8 707.7,147.6 708.03,144.75 708.41,141.78 708.81,138.71 709.22,135.55 709.62,132.34 710,129.1 710.4,125.38 710.78,121.53 711.15,117.6 711.52,113.67 711.9,109.82 712.3,106.1 712.67,102.87 713.04,99.68 713.41,96.55 713.8,93.49 714.19,90.5 714.6,87.6 714.95,85.12 715.29,82.65 715.64,80.23 716.01,77.92 716.43,75.76 716.9,73.8 717.27,72.41 717.66,70.96 718.07,69.59 718.49,68.42 718.94,67.61 719.4,67.3 719.91,67.58 720.46,68.38 721.04,69.54 721.6,70.93 722.13,72.4 722.6,73.8 723.14,75.76 723.59,77.91 723.97,80.22 724.32,82.64 724.65,85.12 725,87.6 725.41,90.5 725.81,93.49 726.2,96.55 726.57,99.68 726.94,102.87 727.3,106.1 727.7,109.82 728.1,113.67 728.49,117.6 728.87,121.52 729.24,125.38 729.6,129.1 729.92,132.34 730.25,135.55 730.56,138.71 730.87,141.78 731.15,144.75 731.4,147.6 731.57,149.81 731.69,151.91 731.81,153.94 731.93,155.94 732.09,157.95 732.3,160 732.58,162.13 732.89,164.25 733.24,166.37 733.63,168.52 734.05,170.72 734.5,173 735.05,175.79 735.62,178.69 736.24,181.67 736.93,184.68 737.71,187.7 738.6,190.7 739.73,194 741.03,197.45 742.43,200.9 743.88,204.24 745.32,207.31 746.7,210 747.57,211.57 748.42,213 749.26,214.31 750.13,215.54 751.03,216.69 752,217.8 752.95,218.78 753.94,219.71 754.96,220.58 756.02,221.38 757.1,222.13 758.2,222.8 759.28,223.38 760.39,223.89 761.53,224.34 762.68,224.74 763.84,225.09 765,225.4 766.16,225.65 767.33,225.85 768.51,226 769.69,226.11 770.86,226.21 772,226.3 773.03,226.37 774.03,226.41 775.03,226.44 776.02,226.46 777.01,226.47 778,226.5" fill="none" stroke="#ff0000" stroke-width="1.9" stroke-linejoin="round"/>
<polyline points="760,226.5 761,226.44 762,226.38 762.99,226.32 763.99,226.25 764.99,226.18 765.98,226.1 766.97,226.01 767.97,225.9 768.96,225.78 769.94,225.63 770.93,225.46 771.91,225.27 772.9,225.05 773.88,224.8 774.85,224.52 775.8,224.2 776.74,223.83 777.65,223.42 778.54,222.96 779.39,222.44 780.2,221.86 780.97,221.23 781.71,220.55 782.4,219.83 783.06,219.06 783.69,218.27 784.28,217.45 784.84,216.61 785.38,215.75 785.88,214.88 786.36,214 786.82,213.11 787.26,212.22 787.69,211.32 788.1,210.41 788.51,209.5 788.92,208.59 789.32,207.67 789.71,206.75 790.09,205.83 790.47,204.9 790.83,203.97 791.18,203.03 791.51,202.09 791.82,201.14 792.12,200.19 792.4,199.23 792.67,198.27 792.94,197.3 793.19,196.34 793.43,195.37 793.67,194.4 793.9,193.43 794.13,192.45 794.35,191.48 794.56,190.5 794.77,189.52 794.97,188.54 795.17,187.57 795.35,186.58 795.54,185.6 795.71,184.62 795.88,183.63 796.05,182.65 796.21,181.66 796.37,180.68 796.53,179.69 796.7,178.71 796.86,177.72 797.03,176.74 797.21,175.75 797.38,174.77 797.56,173.79 797.75,172.8 797.94,171.82 798.13,170.84 798.33,169.86 798.53,168.88 798.73,167.91 798.93,166.93 799.14,165.95 799.34,164.97 799.54,163.99 799.74,163.01 799.93,162.03 800.12,161.05 800.3,160.07 800.47,159.08 800.64,158.1 800.79,157.11 800.94,156.12 801.07,155.13 801.2,154.14 801.33,153.15 801.44,152.15 801.56,151.16 801.67,150.16 801.77,149.17 801.88,148.17 801.98,147.18 802.08,146.18 802.19,145.19 802.29,144.2 802.4,143.21 802.51,142.22 802.63,141.24 802.76,140.25 802.88,139.27 803.02,138.28 803.15,137.3 803.29,136.32 803.43,135.33 803.57,134.34 803.72,133.35 803.86,132.36 804.01,131.36 804.15,130.36 804.29,129.35 804.43,128.33 804.57,127.31 804.71,126.29 804.85,125.27 804.98,124.25 805.11,123.23 805.25,122.21 805.38,121.2 805.5,120.19 805.63,119.19 805.75,118.19 805.87,117.21 805.99,116.23 806.11,115.27 806.22,114.32 806.33,113.39 806.44,112.47 806.55,111.57 806.66,110.68 806.77,109.8 806.89,108.91 807.01,108.02 807.16,107.12 807.32,106.19 807.5,105.22 807.71,104.22 807.95,103.18 808.23,102.08 808.54,100.91 808.89,99.68 809.29,98.42 809.72,97.24 810.17,96.28 810.64,95.66 811.11,95.51 811.59,95.89 812.05,96.68 812.49,97.76 812.9,99 813.28,100.29 813.62,101.52 813.92,102.71 814.18,103.84 814.41,104.93 814.61,105.98 814.79,106.99 814.94,107.97 815.06,108.91 815.17,109.83 815.27,110.73 815.35,111.61 815.42,112.48 815.48,113.33 815.54,114.17 815.6,115.02 815.66,115.86 815.72,116.7 815.79,117.55 815.85,118.4 815.92,119.25 815.99,120.11 816.06,120.98 816.14,121.86 816.22,122.75 816.29,123.65 816.38,124.57 816.46,125.5 816.55,126.44 816.63,127.4 816.73,128.38 816.82,129.38 816.92,130.4 817.02,131.44 817.12,132.5 817.22,133.59 817.33,134.7 817.44,135.85 817.56,137.02 817.68,138.21 817.8,139.44 817.92,140.71 818.05,142 818.18,143.33 818.32,144.68 818.45,146.04 818.59,147.4 818.74,148.76 818.88,150.11 819.03,151.43 819.18,152.72 819.33,153.97 819.48,155.17 819.64,156.31 819.79,157.38 819.95,158.38 820.11,159.29 820.26,160.1 820.42,160.82 820.58,161.41 820.74,161.89 820.9,162.24 821.06,162.44 821.22,162.5 821.38,162.4 821.54,162.16 821.69,161.78 821.85,161.27 822,160.64 822.16,159.9 822.31,159.06 822.46,158.13 822.61,157.11 822.76,156.02 822.91,154.86 823.06,153.65 823.2,152.39 823.34,151.09 823.48,149.76 823.62,148.41 823.76,147.05 823.89,145.68 824.03,144.33 824.16,142.98 824.28,141.66 824.41,140.38 824.53,139.12 824.65,137.9 824.77,136.71 824.88,135.55 825,134.42 825.11,133.31 825.21,132.23 825.32,131.17 825.42,130.14 825.52,129.13 825.62,128.14 825.72,127.16 825.81,126.21 825.9,125.27 825.99,124.34 826.07,123.43 826.16,122.54 826.24,121.65 826.32,120.77 826.4,119.91 826.47,119.05 826.54,118.19 826.62,117.34 826.68,116.49 826.75,115.65 826.81,114.81 826.88,113.96 826.94,113.11 827.01,112.25 827.09,111.38 827.18,110.5 827.28,109.59 827.41,108.67 827.55,107.71 827.71,106.73 827.91,105.72 828.13,104.66 828.39,103.57 828.68,102.43 829.02,101.25 829.4,100.01 829.82,98.74 830.28,97.53 830.76,96.51 831.25,95.79 831.74,95.5 832.23,95.73 832.7,96.4 833.15,97.39 833.57,98.58 833.95,99.84 834.3,101.06 834.62,102.21 834.9,103.3 835.14,104.33 835.37,105.33 835.57,106.28 835.75,107.21 835.91,108.11 836.06,109 836.19,109.88 836.32,110.76 836.45,111.65 836.58,112.55 836.7,113.47 836.83,114.4 836.96,115.35 837.08,116.31 837.21,117.28 837.34,118.27 837.47,119.26 837.6,120.26 837.72,121.27 837.85,122.28 837.98,123.3 838.11,124.32 838.23,125.35 838.36,126.37 838.48,127.39 838.61,128.41 838.73,129.43 838.85,130.45 838.98,131.45 839.1,132.46 839.22,133.46 839.33,134.45 839.45,135.45 839.57,136.44 839.68,137.43 839.8,138.41 839.91,139.4 840.02,140.39 840.13,141.37 840.24,142.36 840.35,143.34 840.46,144.33 840.56,145.32 840.67,146.3 840.77,147.29 840.87,148.29 840.98,149.28 841.08,150.27 841.18,151.26 841.29,152.26 841.39,153.25 841.49,154.25 841.6,155.24 841.71,156.24 841.82,157.23 841.93,158.23 842.04,159.22 842.16,160.22 842.27,161.21 842.4,162.2 842.52,163.2 842.65,164.19 842.78,165.18 842.91,166.17 843.05,167.16 843.19,168.15 843.33,169.14 843.48,170.13 843.63,171.12 843.79,172.11 843.95,173.09 844.11,174.08 844.27,175.06 844.44,176.05 844.61,177.03 844.78,178.02 844.96,179 845.13,179.98 845.32,180.96 845.5,181.95 845.69,182.93 845.88,183.91 846.07,184.89 846.26,185.87 846.46,186.85 846.66,187.83 846.86,188.8 847.07,189.78 847.27,190.76 847.49,191.74 847.7,192.71 847.92,193.69 848.14,194.66 848.36,195.64 848.58,196.61 848.81,197.58 849.04,198.56 849.28,199.53 849.52,200.5 849.76,201.47 850.01,202.43 850.27,203.4 850.54,204.36 850.82,205.32 851.12,206.27 851.43,207.22 851.76,208.17 852.1,209.11 852.47,210.04 852.85,210.97 853.26,211.89 853.7,212.8 854.16,213.7 854.65,214.59 855.17,215.47 855.72,216.32 856.3,217.15 856.91,217.95 857.56,218.72 858.24,219.45 858.96,220.14 859.72,220.78 860.52,221.38 861.35,221.92 862.22,222.41 863.11,222.86 864.04,223.26 864.98,223.63 865.94,223.95 866.92,224.24 867.91,224.49 868.91,224.72 869.91,224.91 870.91,225.08 871.91,225.22 872.9,225.34 873.89,225.45 874.85,225.53 875.8,225.6" fill="none" stroke="#ff0000" stroke-width="1.9" stroke-linejoin="round"/>
<polyline points="875.8,225.6 876.91,225.59 877.99,225.52 879.04,225.39 880.05,225.21 881.04,224.96 882,224.67 882.93,224.32 883.84,223.93 884.71,223.49 885.57,223.01 886.4,222.48 887.21,221.92 887.99,221.33 888.75,220.7 889.49,220.04 890.22,219.35 890.92,218.64 891.6,217.9 892.27,217.15 892.92,216.37 893.56,215.58 894.18,214.78 894.79,213.97 895.38,213.14 895.96,212.32 896.53,211.48 897.09,210.64 897.63,209.79 898.15,208.93 898.66,208.07 899.15,207.2 899.63,206.32 900.08,205.44 900.52,204.54 900.94,203.64 901.34,202.73 901.72,201.81 902.07,200.88 902.41,199.95 902.73,199.01 903.03,198.06 903.32,197.1 903.59,196.14 903.85,195.18 904.1,194.21 904.34,193.23 904.57,192.26 904.79,191.28 905,190.3 905.21,189.31 905.42,188.33 905.62,187.34 905.82,186.36 906.02,185.37 906.23,184.39 906.43,183.41 906.64,182.43 906.84,181.45 907.05,180.47 907.25,179.49 907.46,178.51 907.66,177.54 907.86,176.56 908.06,175.58 908.26,174.6 908.46,173.62 908.65,172.64 908.83,171.66 909.01,170.68 909.19,169.7 909.36,168.72 909.53,167.73 909.69,166.74 909.84,165.76 909.99,164.77 910.14,163.78 910.28,162.78 910.41,161.79 910.54,160.8 910.67,159.8 910.79,158.81 910.91,157.82 911.02,156.82 911.14,155.83 911.25,154.83 911.35,153.84 911.46,152.84 911.56,151.85 911.66,150.86 911.76,149.86 911.86,148.87 911.96,147.88 912.05,146.89 912.15,145.91 912.24,144.92 912.34,143.93 912.43,142.95 912.53,141.96 912.62,140.98 912.72,140 912.81,139.01 912.91,138.03 913.01,137.04 913.1,136.05 913.2,135.06 913.3,134.07 913.41,133.08 913.51,132.09 913.62,131.09 913.72,130.09 913.83,129.09 913.95,128.09 914.06,127.08 914.18,126.07 914.3,125.05 914.42,124.03 914.55,123.01 914.67,121.98 914.8,120.95 914.94,119.92 915.07,118.89 915.2,117.86 915.34,116.83 915.47,115.8 915.61,114.78 915.74,113.76 915.87,112.74 916,111.74 916.12,110.73 916.25,109.74 916.37,108.76 916.49,107.78 916.6,106.82 916.71,105.87 916.81,104.93 916.91,104.01 917,103.1 917.09,102.2 917.17,101.32 917.25,100.45 917.32,99.58 917.4,98.71 917.49,97.81 917.59,96.9 917.7,95.95 917.83,94.96 917.99,93.92 918.17,92.82 918.37,91.66 918.61,90.42 918.89,89.11 919.2,87.8 919.53,86.64 919.88,85.74 920.24,85.25 920.61,85.29 920.97,85.85 921.32,86.8 921.65,88 921.96,89.31 922.22,90.62 922.45,91.84 922.65,93 922.81,94.08 922.95,95.12 923.06,96.1 923.16,97.05 923.23,97.96 923.3,98.85 923.36,99.73 923.41,100.6 923.46,101.47 923.52,102.36 923.58,103.26 923.64,104.18 923.71,105.11 923.78,106.05 923.86,107.01 923.94,107.98 924.02,108.96 924.11,109.95 924.2,110.94 924.29,111.95 924.38,112.96 924.48,113.98 924.57,115.01 924.67,116.04 924.76,117.07 924.86,118.1 924.95,119.14 925.05,120.17 925.14,121.21 925.23,122.24 925.32,123.27 925.41,124.3 925.49,125.32 925.57,126.34 925.65,127.35 925.73,128.36 925.81,129.37 925.88,130.38 925.95,131.38 926.02,132.38 926.08,133.37 926.15,134.37 926.21,135.36 926.27,136.35 926.33,137.34 926.39,138.33 926.44,139.32 926.49,140.31 926.55,141.29 926.6,142.28 926.65,143.27 926.7,144.26 926.75,145.25 926.79,146.24 926.84,147.23 926.88,148.22 926.93,149.21 926.97,150.21 927.01,151.2 927.05,152.2 927.09,153.19 927.13,154.19 927.17,155.19 927.21,156.19 927.25,157.19 927.28,158.19 927.32,159.19 927.35,160.19 927.38,161.19 927.42,162.19 927.45,163.19 927.48,164.2 927.51,165.2 927.54,166.2 927.56,167.2 927.59,168.2 927.62,169.2 927.64,170.21 927.67,171.21 927.69,172.21 927.72,173.21 927.74,174.21 927.76,175.21 927.78,176.21 927.81,177.21 927.83,178.21 927.85,179.21 927.87,180.21 927.89,181.2 927.9,182.2 927.92,183.2 927.94,184.2 927.96,185.2 927.98,186.2 927.99,187.2 928.01,188.2 928.03,189.19 928.04,190.19 928.06,191.19 928.08,192.19 928.09,193.19 928.11,194.19 928.12,195.18 928.14,196.18 928.15,197.18 928.17,198.18 928.19,199.18 928.2,200.18 928.22,201.17 928.24,202.17 928.25,203.17 928.27,204.17 928.29,205.17 928.3,206.17 928.32,207.17 928.34,208.17 928.36,209.17 928.37,210.16 928.39,211.16 928.41,212.16 928.43,213.16 928.45,214.16 928.47,215.16 928.49,216.16 928.51,217.16 928.54,218.16 928.56,219.16 928.58,220.16 928.6,221.16 928.63,222.16 928.65,223.15 928.68,224.15 928.7,225.15 928.73,226.15 928.76,227.15 928.79,228.15 928.81,229.15 928.84,230.15 928.87,231.15 928.9,232.15 928.93,233.15 928.96,234.15 929,235.14 929.03,236.14 929.06,237.14 929.09,238.14 929.13,239.14 929.16,240.14 929.19,241.14 929.23,242.14 929.26,243.13 929.3,244.13 929.33,245.13 929.36,246.13 929.4,247.13 929.43,248.13 929.47,249.12 929.5,250.12 929.54,251.12 929.57,252.12 929.61,253.12 929.65,254.11 929.68,255.11 929.72,256.11 929.75,257.11 929.79,258.11 929.82,259.1 929.86,260.1 929.9,261.1 929.93,262.1 929.97,263.1 930,264.1 930.04,265.09 930.08,266.09 930.12,267.09 930.15,268.09 930.19,269.09 930.23,270.09 930.27,271.09 930.3,272.09 930.34,273.09 930.38,274.09 930.42,275.1 930.46,276.1 930.5,277.1 930.54,278.1 930.58,279.1 930.62,280.1 930.66,281.1 930.7,282.1 930.74,283.1 930.79,284.1 930.83,285.1 930.87,286.1 930.92,287.1 930.96,288.1 931.01,289.09 931.06,290.09 931.1,291.09 931.15,292.08 931.2,293.07 931.25,294.06 931.3,295.05 931.35,296.04 931.41,297.03 931.46,298.02 931.52,299.01 931.57,299.99 931.63,300.98 931.69,301.97 931.75,302.95 931.81,303.94 931.87,304.93 931.93,305.92 931.99,306.9 932.06,307.9 932.12,308.89 932.19,309.88 932.26,310.88 932.32,311.87 932.39,312.87 932.47,313.88 932.54,314.88 932.61,315.89 932.69,316.9 932.76,317.92 932.84,318.93 932.92,319.95 933,320.98 933.08,322.01 933.16,323.04 933.25,324.08 933.33,325.11 933.42,326.15 933.5,327.19 933.59,328.23 933.68,329.27 933.76,330.3 933.85,331.34 933.94,332.36 934.03,333.39 934.11,334.41 934.2,335.42 934.29,336.43 934.38,337.43 934.46,338.43 934.55,339.41 934.63,340.39 934.72,341.35 934.8,342.31 934.88,343.25 934.96,344.18 935.04,345.09 935.12,346 935.19,346.89 935.26,347.76 935.34,348.63 935.41,349.5 935.49,350.39 935.57,351.3 935.66,352.25 935.75,353.25 935.86,354.3 935.98,355.42 936.1,356.62 936.25,357.92 936.4,359.27 936.57,360.62 936.75,361.87 936.93,362.94 937.11,363.75 937.29,364.22 937.47,364.26 937.64,363.87 937.81,363.11 937.98,362.08 938.15,360.86 938.33,359.53 938.51,358.17 938.69,356.87 938.89,355.66 939.1,354.53 939.3,353.48 939.52,352.48 939.73,351.54 939.94,350.64 940.15,349.76 940.36,348.91 940.56,348.06 940.75,347.21 940.94,346.34 941.11,345.46 941.28,344.56 941.43,343.64 941.58,342.71 941.72,341.77 941.85,340.82 941.98,339.85 942.1,338.87 942.21,337.89 942.32,336.89 942.43,335.88 942.53,334.87 942.62,333.85 942.72,332.83 942.81,331.8 942.89,330.77 942.98,329.73 943.06,328.69 943.15,327.65 943.23,326.61 943.32,325.57 943.4,324.53 943.49,323.5 943.57,322.46 943.66,321.43 943.75,320.41 943.85,319.39 943.95,318.37 944.05,317.36 944.15,316.35 944.25,315.35 944.36,314.34 944.47,313.35 944.58,312.35 944.69,311.36 944.81,310.37 944.92,309.38 945.04,308.4 945.16,307.41 945.28,306.43 945.41,305.45 945.53,304.47 945.65,303.48 945.78,302.5 945.91,301.52 946.04,300.54 946.16,299.56 946.29,298.58 946.42,297.59 946.55,296.61 946.68,295.62 946.81,294.63 946.95,293.64 947.08,292.65 947.22,291.66 947.36,290.67 947.51,289.68 947.66,288.69 947.82,287.7 947.98,286.71 948.15,285.73 948.32,284.74 948.5,283.76 948.69,282.78 948.88,281.8 949.07,280.82 949.26,279.84 949.45,278.86 949.65,277.88 949.84,276.9 950.03,275.92 950.22,274.93 950.41,273.95 950.6,272.97 950.78,271.99 950.96,271.01 951.14,270.03 951.32,269.04 951.5,268.06 951.68,267.08 951.86,266.09 952.03,265.11 952.21,264.12 952.38,263.14 952.56,262.15 952.73,261.17 952.9,260.18 953.08,259.2 953.25,258.21 953.43,257.23 953.61,256.25 953.79,255.26 953.97,254.28 954.15,253.3 954.34,252.31 954.53,251.33 954.72,250.35 954.92,249.38 955.12,248.4 955.33,247.42 955.54,246.45 955.76,245.48 955.99,244.51 956.22,243.54 956.47,242.57 956.73,241.61 957.01,240.65 957.31,239.7 957.62,238.75 957.95,237.8 958.31,236.86 958.69,235.92 959.1,234.99 959.54,234.07 960.01,233.16 960.51,232.27 961.06,231.41 961.64,230.59 962.28,229.82 962.96,229.1 963.7,228.43 964.5,227.84 965.35,227.32 966.24,226.86 967.17,226.46 968.12,226.12 969.09,225.83 970.06,225.59 971.04,225.39 972.03,225.23 973.02,225.1 974.01,225 975.01,224.92 976.01,224.85 977.01,224.8 978.01,224.75 979,224.7" fill="none" stroke="#ff0000" stroke-width="1.9" stroke-linejoin="round"/>
<g transform="matrix(1,0,0.865,1,-152.24,0)"><rect x="683.2" y="203" width="6" height="60" fill="#000"/><polygon points="686.3,180.1 695.9,205.6 686.2,204.6 676.3,205.6" fill="#000"/><polygon points="683.5,258 688.9,258 695.6,274.4 685.4,270.4 675.5,273.7" fill="#000"/><path d="M867.1,210 L866.6,258" stroke="#000" stroke-width="3.7" fill="none"/><polygon points="867.2,191.9 871.7,211.7 867.3,210.6 863,211.7" fill="#000"/><polygon points="866.2,254 868,254 870.8,264.5 867.4,262 864.5,264.5" fill="#000"/><path d="M904.2,198 L904.2,248" stroke="#000" stroke-width="3.7" fill="none"/><polygon points="904.3,266.2 899.6,246.5 904.2,247.8 909,246.5" fill="#000"/><polygon points="903.3,192.5 905.1,192.5 907.5,202.8 904.2,200.3 900.8,202.8" fill="#000"/><path d="M880,184.3 H891 M879.6,180.6 V187.8" stroke="#000" stroke-width="1.7" fill="none"/><polygon points="895.2,184.2 890.2,180.2 891.4,184.2 890.6,188.2" fill="#000"/><path d="M879.5,269.5 H891 M892,265.8 V273" stroke="#000" stroke-width="1.7" fill="none"/><polygon points="875.3,269.5 880.3,265.5 879.1,269.5 879.9,273.5" fill="#000"/><path d="M769.7,196 C773,199 778,204 779.5,211 C781,220 780.5,232 778.5,242.6 C777.8,245.5 777,247.5 776.2,249.5" stroke="#000" stroke-width="3.9" fill="none"/><path d="M768,263 L766.8,276.6" stroke="#000" stroke-width="1.1" fill="none"/><polygon points="761.8,178.2 774.8,185 771.5,193 765.1,204.7" fill="#000"/><polygon points="760.3,252.1 763.3,253.3 766.3,255.3 768.4,255.7 773.2,247.5 779.6,247.5 775.3,256.1 770.7,261 766.6,263.6 764.6,261 762.4,256.1" fill="#000"/><path d="M799,189 C796,196 793,203 791.6,212 C790.2,219 789.5,226 790.2,233 C790.8,239 792.3,243.5 795,247 C796.5,249.5 798,252 800.5,254.3" stroke="#000" stroke-width="3.6" fill="none"/><path d="M804.7,264 L803.3,276.6" stroke="#000" stroke-width="1.1" fill="none"/><path d="M799.5,188 C796.5,195 793.8,202 792.5,209" stroke="#000" stroke-width="5.2" fill="none"/><polygon points="808.5,177.5 805.6,202.8 799.2,198.2 796.7,184.4" fill="#000"/><polygon points="797.6,256.6 800,252.4 804.2,254.4 809.9,251.4 806.3,257.5 804.9,261.9 804.7,265.2 802,261 800.6,257.5" fill="#000"/><path d="M766.5,216 L764.4,244" stroke="#000" stroke-width="1.6" fill="none"/><polygon points="766.7,207.3 770.3,217.6 766.5,216 762.7,217.6" fill="#000"/><polygon points="764,241 765,241 767.8,246.5 764.4,244.8 761.5,246.5" fill="#000"/><path d="M804,216 L801.9,244" stroke="#000" stroke-width="1.6" fill="none"/><polygon points="804.2,207.3 807.8,217.6 804,216 800.2,217.6" fill="#000"/><polygon points="801.5,241 802.5,241 805.3,246.5 801.9,244.8 799,246.5" fill="#000"/><path d="M785,186 L774,179.8 M785,186 L797.3,180" stroke="#000" stroke-width="1.5" fill="none"/><polygon points="770.8,178.2 777.5,178.8 775.5,180.6 775.3,183.3" fill="#000"/><polygon points="800.5,178.5 796.2,183.8 795.9,181 794.2,179.4" fill="#000"/><path d="M769.4,269.7 L779.5,266.2 M799.5,270 L790.5,265.6" stroke="#000" stroke-width="1.6" fill="none"/><path d="M768.2,266.5 L770.6,273 M800.5,266.8 L798.5,273.2" stroke="#000" stroke-width="1.6" fill="none"/><polygon points="782.5,264.9 779,262.8 779.7,265.9 778.2,268.8" fill="#000"/><polygon points="787.2,264.2 791.5,262.8 790.3,265.6 791.2,268.6" fill="#000"/></g>
<text x="719" y="56.3" class="gk red">α</text>
<text x="820.5" y="81" class="gk red">β</text>
<text x="932" y="78.5" class="gk red">γ</text>
<text x="784.3" y="306.6" class="gk">α</text>
<text x="880.4" y="305.5" class="gk">β</text>
<text x="985.4" y="301" class="gk">γ</text>
</svg>
</body></html>
